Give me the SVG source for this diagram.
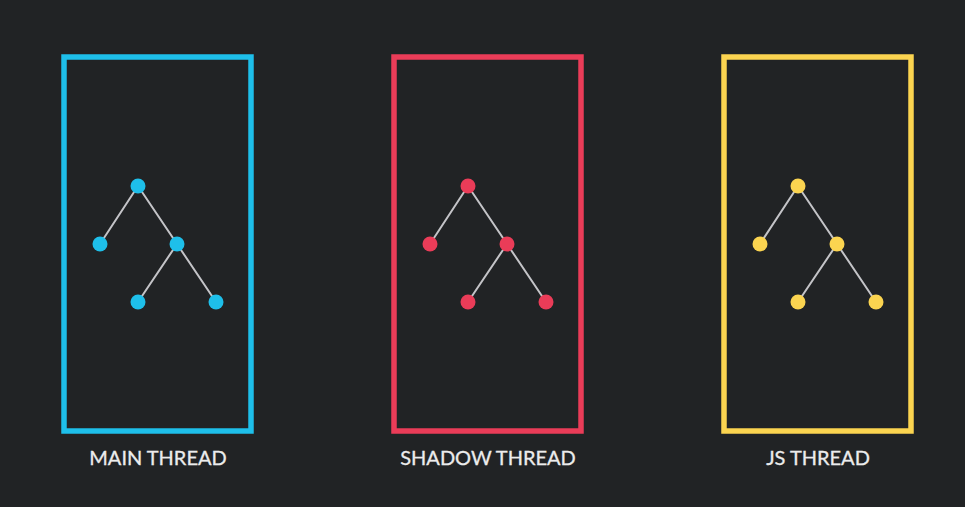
<svg xmlns="http://www.w3.org/2000/svg" width="965" height="507" viewBox="0 0 965 507">
<style>
.frame{fill:none;stroke-width:5.5}
.edge{stroke:#c4c4c8;stroke-width:2;fill:none}
.lbl{font-family:Lato,"Open Sans","Liberation Sans",sans-serif;font-size:20px;fill:#ececec;stroke:#ececec;stroke-width:0.3;text-anchor:middle}
</style>
<rect x="0" y="0" width="965" height="507" fill="#212325"/>
<defs>
<g id="tree-edges">
<path class="edge" d="M138 186L100 244M138 186L177 244L138 302M177 244L216 302"/>
</g>
</defs>
<g id="connectors">
<use href="#tree-edges"/>
<use href="#tree-edges" x="330"/>
<use href="#tree-edges" x="660"/>
</g>
<g id="main-thread">
<rect class="frame" x="64" y="57" width="187" height="374" stroke="#1ebfea"/>
<g fill="#1ebfea">
<circle cx="138" cy="186" r="7.5"/><circle cx="100" cy="244" r="7.5"/><circle cx="177" cy="244" r="7.5"/><circle cx="138" cy="302" r="7.5"/><circle cx="216" cy="302" r="7.5"/>
</g>
<text class="lbl" x="158" y="465">MAIN THREAD</text>
</g>
<g id="shadow-thread">
<rect class="frame" x="394" y="57" width="187" height="374" stroke="#ea3c58"/>
<g fill="#ea3c58">
<circle cx="468" cy="186" r="7.5"/><circle cx="430" cy="244" r="7.5"/><circle cx="507" cy="244" r="7.5"/><circle cx="468" cy="302" r="7.5"/><circle cx="546" cy="302" r="7.5"/>
</g>
<text class="lbl" x="488" y="465">SHADOW THREAD</text>
</g>
<g id="js-thread">
<rect class="frame" x="724" y="57" width="187" height="374" stroke="#fbd450"/>
<g fill="#fbd450">
<circle cx="798" cy="186" r="7.5"/><circle cx="760" cy="244" r="7.5"/><circle cx="837" cy="244" r="7.5"/><circle cx="798" cy="302" r="7.5"/><circle cx="876" cy="302" r="7.5"/>
</g>
<text class="lbl" x="818" y="465">JS THREAD</text>
</g>
</svg>
